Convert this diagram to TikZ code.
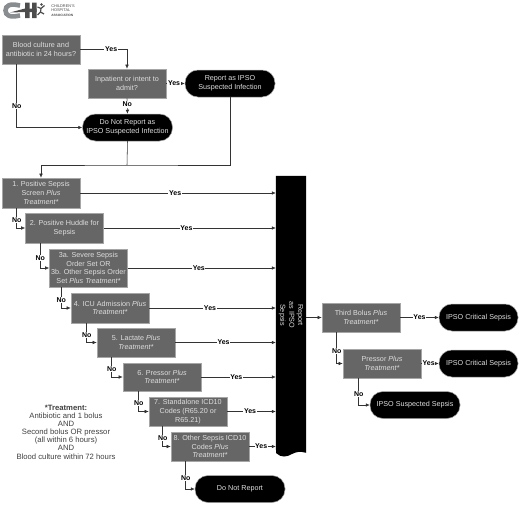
\documentclass[tikz,border=0pt]{standalone}
\usepackage{fontspec}
\setmainfont{Liberation Sans}
\usetikzlibrary{arrows.meta,positioning,calc}
\definecolor{stepgray}{HTML}{666666}
\definecolor{stepedge}{HTML}{A6A6A6}
\definecolor{logogray}{HTML}{8A8D90}
\definecolor{paletext}{HTML}{DEDEDE}
\newcommand{\plustr}{\emph{Plus}}
\tikzset{
  stepbox/.style={draw=stepedge, line width=0.6pt, fill=stepgray, inner sep=0pt,
                  minimum width=78pt, align=center, text=paletext,
                  font=\fontsize{7.2}{8.7}\selectfont},
  pillbox/.style={draw=stepedge, line width=0.5pt, fill=black, rounded corners=13pt, inner sep=0pt,
                  minimum width=90pt, minimum height=27pt, align=center, text=paletext,
                  font=\fontsize{7.2}{8.7}\selectfont},
  arr/.style={-{Latex[length=4pt,width=3.6pt]}, line width=0.55pt, color=black!80},
  lin/.style={line width=0.55pt, color=black!80},
  lab/.style={fill=white, inner sep=0.6pt, text=black,
              font=\bfseries\fontsize{7}{8}\selectfont}}

\begin{document}
\begin{tikzpicture}[x=1pt,y=-1pt]
    \useasboundingbox (0,0) rectangle (520,506);
    % logo
    \draw[logogray, line width=4.6pt] (20,5.6) .. controls (10,3) and (5.5,5.5) .. (5.5,10.5)
      .. controls (5.5,15.5) and (10,18) .. (20,15.4);
    \fill[black!70] (25,2.5) rectangle (29.5,18) (32,2.5) rectangle (36.5,18);
    \fill[black!70] (10,12.5) -- (25,8.5) -- (36.5,8.5) -- (36.5,12) -- (25,12) -- cycle;
    \fill[black!70] (41.5,4.5) circle (1.4);
    \draw[black!70, line width=1.2pt] (37.5,7) -- (41,8.5) -- (44.5,5.5) (41,8.5) -- (40.5,12) -- (37.5,15) (40.5,12) -- (44,14);
    \node[inner sep=0pt, align=left, text=black!70, font=\fontsize{3.9}{4.8}\selectfont] (logotext) at (63,10.5)
      {CHILDREN'S\\HOSPITAL\\\textbf{\fontsize{3.2}{4.8}\selectfont ASSOCIATION}};

    \node[stepbox, minimum height=29pt] (q1) at (41,49.5) {Blood culture and\\antibiotic in 24 hours?};
    \node[stepbox, minimum height=29pt] (q2) at (127,83.5) {Inpatient or intent to\\admit?};
    \node[pillbox] (rs) at (230,83.5) {Report as IPSO\\Suspected Infection};
    \node[pillbox] (dn) at (127.5,127.5) {Do Not Report as\\IPSO Suspected Infection};
    \coordinate (j1) at (127,165);

    \node[stepbox, minimum height=30pt] (s1) at (41,193) {1. Positive Sepsis\\Screen \plustr\\\emph{Treatment*}};
    \node[stepbox, minimum height=30pt] (s2) at (64.5,228) {2. Positive Huddle for\\Sepsis};
    \node[stepbox, minimum height=38pt] (s3) at (88.5,268) {3a. Severe Sepsis\\Order Set OR\\3b. Other Sepsis Order\\Set \plustr\ \emph{Treatment*}};
    \node[stepbox, minimum height=30pt] (s4) at (110,308) {4. ICU Admission \plustr\\\emph{Treatment*}};
    \node[stepbox, minimum height=29pt] (s5) at (136,342.5) {5. Lactate \plustr\\\emph{Treatment*}};
    \node[stepbox, minimum height=28pt] (s6) at (162,377) {6. Pressor \plustr\\\emph{Treatment*}};
    \node[stepbox, minimum height=29pt] (s7) at (188,411.5) {7. Standalone ICD10\\Codes (R65.20 or\\R65.21)};
    \node[stepbox, minimum height=29pt] (s8) at (210,446.5) {8. Other Sepsis ICD10\\Codes \plustr\\\emph{Treatment*}};
    \node[pillbox] (nr) at (240,489) {Do Not Report};

    \node[minimum width=30pt, minimum height=281pt, inner sep=0pt] (rep) at (291,316.5) {};
    \fill[black] (rep.north west) -- (rep.north east) -- ++(0,277)
      .. controls (300,451) and (296,452) .. (292,454)
      .. controls (287,457) and (281,458) .. (276,453) -- cycle;
    \node[rotate=-90, align=center, inner sep=0pt, text=paletext,
          font=\fontsize{7.2}{8.9}\selectfont] (reptext) at (291,315) {Report\\as IPSO\\Sepsis};

    \node[stepbox, minimum height=29pt] (t1) at (361,317.5) {Third Bolus \plustr\\\emph{Treatment*}};
    \node[stepbox, minimum height=29pt] (t2) at (382,363.5) {Pressor \plustr\\\emph{Treatment*}};
    \node[pillbox, minimum width=79pt] (c1) at (478.5,317.5) {IPSO Critical Sepsis};
    \node[pillbox, minimum width=79pt] (c2) at (478.5,363.5) {IPSO Critical Sepsis};
    \node[pillbox] (ss) at (415,405) {IPSO Suspected Sepsis};

    \node[align=center, inner sep=0pt, text=black!75, font=\fontsize{7.7}{8.15}\selectfont] (note) at (66,432)
      {\textbf{*Treatment:}\\Antibiotic and 1 bolus\\AND\\Second bolus OR pressor\\(all within 6 hours)\\AND\\Blood culture within 72 hours};

    % top part
    \draw[arr] (q1.east) -| node[lab,pos=0.33] {Yes} (q2.north);
    \draw[arr] (q2.east) -- node[lab,pos=0.42] {Yes} (rs.west);
    \draw[arr] (q2.south) -- node[lab,pos=0.4] {No} (dn.north);
    \draw[arr] ([xshift=15pt]q1.south west) |- node[lab,pos=0.33] {No} (dn.west);
    \draw[lin] (dn.south) -- (j1);
    \draw[arr] (rs.south) |- (j1) -| (s1.north);

    % yes side
    \draw[arr] (s1.east) -- node[lab,pos=0.485] {Yes} (s1.east -| rep.west);
    \draw[arr] (s2.east) -- node[lab,pos=0.48] {Yes} (s2.east -| rep.west);
    \draw[arr] (s3.east) -- node[lab,pos=0.48] {Yes} (s3.east -| rep.west);
    \draw[arr] (s4.east) -- node[lab,pos=0.48] {Yes} (s4.east -| rep.west);
    \draw[arr] (s5.east) -- node[lab,pos=0.48] {Yes} (s5.east -| rep.west);
    \draw[arr] (s6.east) -- node[lab,pos=0.47] {Yes} (s6.east -| rep.west);
    \draw[arr] (s7.east) -- node[lab,pos=0.47] {Yes} (s7.east -| rep.west);
    \draw[arr] (s8.east) -- node[lab,pos=0.45] {Yes} (s8.east -| rep.west);

    % no side
    \draw[arr] ([xshift=15pt]s1.south west) |- node[lab,pos=0.3] {No} (s2.west);
    \draw[arr] ([xshift=15pt]s2.south west) |- node[lab,pos=0.3] {No} (s3.west);
    \draw[arr] ([xshift=12pt]s3.south west) |- node[lab,pos=0.3] {No} (s4.west);
    \draw[arr] ([xshift=16pt]s4.south west) |- node[lab,pos=0.3] {No} (s5.west);
    \draw[arr] ([xshift=15pt]s5.south west) |- node[lab,pos=0.3] {No} (s6.west);
    \draw[arr] ([xshift=16pt]s6.south west) |- node[lab,pos=0.3] {No} (s7.west);
    \draw[arr] ([xshift=14pt]s7.south west) |- node[lab,pos=0.3] {No} (s8.west);
    \draw[arr] ([xshift=15pt]s8.south west) |- node[lab,pos=0.3] {No} (nr.west);

    % right side
    \draw[arr] (rep.east |- t1.west) -- (t1.west);
    \draw[arr] (t1.east) -- node[lab,pos=0.5] {Yes} (c1.west);
    \draw[arr] (t2.east) -- node[lab,pos=0.42] {Yes} (c2.west);
    \draw[arr] ([xshift=15pt]t1.south west) |- node[lab,pos=0.3] {No} (t2.west);
    \draw[arr] ([xshift=16pt]t2.south west) |- node[lab,pos=0.3] {No} (ss.west);
\end{tikzpicture}
\end{document}
